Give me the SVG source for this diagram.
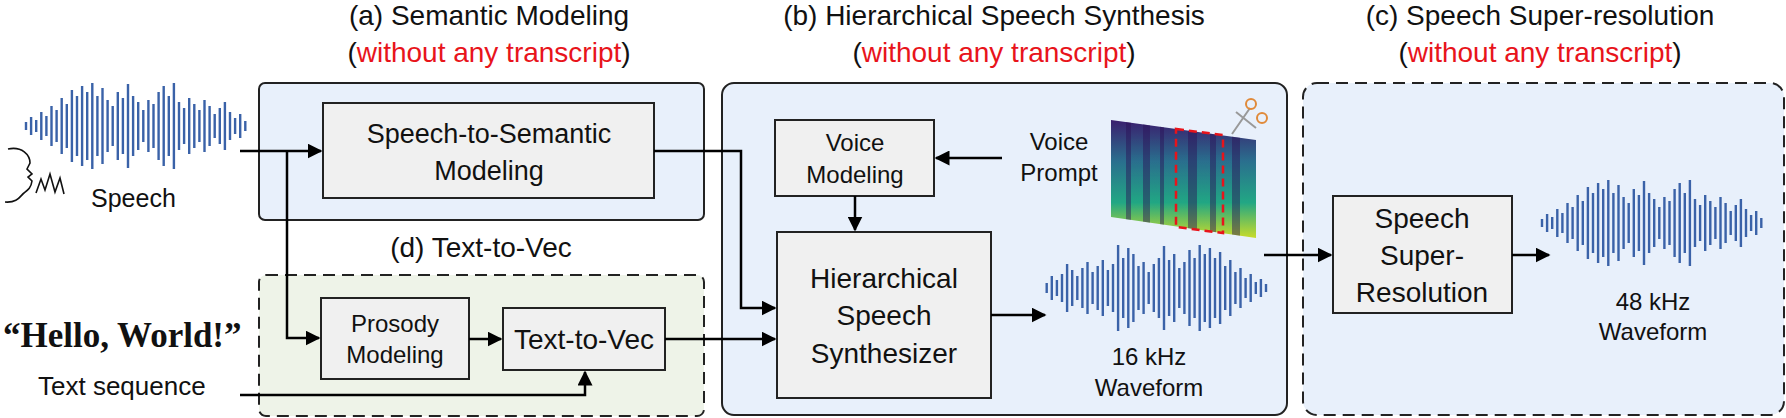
<svg xmlns="http://www.w3.org/2000/svg" width="1786" height="418" viewBox="0 0 1786 418">
<style>
text{font-family:"Liberation Sans",Arial,sans-serif;fill:#111}
.t{font-size:28px;text-anchor:middle}
.red{fill:#e8141b}
.m{font-size:27px;text-anchor:middle}
.s{font-size:24px;text-anchor:middle}
.panel{fill:#e8f0fb;stroke:#222;stroke-width:2}
.dash{stroke-dasharray:12 7}
.box{fill:#f0f0f0;stroke:#222;stroke-width:2}
.wave{stroke:#3a62a8;stroke-width:2.4;fill:none}
</style>
<defs>
<marker id="ah2" viewBox="0 0 10 10" refX="9" refY="5" markerWidth="15" markerHeight="15" orient="auto" markerUnits="userSpaceOnUse"><path d="M0,0L10,5L0,10z" fill="#000"/></marker>
<linearGradient id="spec" x1="0" y1="0" x2="0" y2="1"><stop offset="0" stop-color="#3b1f6e"/><stop offset="0.35" stop-color="#2a6f8e"/><stop offset="0.7" stop-color="#22a784"/><stop offset="1" stop-color="#c8dc2a"/></linearGradient>
<clipPath id="specclip"><polygon points="1111,120 1256,140 1256,238 1111,217"/></clipPath>
<path id="wv" class="wave" d="M0 -4V4M5.1 -9V9M10.2 -6V6M15.3 -14V14M20.4 -10V10M25.5 -20V20M30.6 -16V16M35.7 -28V28M40.8 -22V22M45.9 -36V36M51 -30V30M56.1 -40V40M61.2 -34V34M66.3 -43V43M71.4 -30V30M76.5 -38V38M81.6 -26V26M86.7 -20V20M91.8 -34V34M96.9 -28V28M102 -42V42M107.1 -30V30M112.2 -24V24M117.3 -16V16M122.4 -26V26M127.5 -22V22M132.6 -34V34M137.7 -40V40M142.8 -30V30M147.9 -43V43M153 -24V24M158.1 -18V18M163.2 -28V28M168.3 -22V22M173.4 -16V16M178.5 -26V26M183.6 -20V20M188.7 -12V12M193.8 -18V18M198.9 -24V24M204 -14V14M209.1 -8V8M214.2 -12V12M219.3 -5V5"/>
</defs>
<text class="t" x="489" y="25">(a) Semantic Modeling</text>
<text class="t" x="489" y="62">(<tspan class="red">without any transcript</tspan>)</text>
<text class="t" x="994" y="25">(b) Hierarchical Speech Synthesis</text>
<text class="t" x="994" y="62">(<tspan class="red">without any transcript</tspan>)</text>
<text class="t" x="1540" y="25">(c) Speech Super-resolution</text>
<text class="t" x="1540" y="62">(<tspan class="red">without any transcript</tspan>)</text>

<g id="panel-a"><rect class="panel" x="259" y="83" width="445" height="137" rx="6"/></g>
<g id="panel-d"><rect class="panel dash" style="fill:#eef3e8" x="259" y="275" width="445" height="141" rx="7"/>
<text class="t" x="481" y="257">(d) Text-to-Vec</text></g>
<g id="panel-b"><rect class="panel" x="722" y="83" width="565" height="332" rx="12"/></g>
<g id="panel-c"><rect class="panel dash" x="1303" y="83" width="481" height="332" rx="14"/></g>

<g id="speech">
<use href="#wv" transform="translate(26,126)"/>
<path d="M8 149c14-3 22 6 22 14l-3 6 5 5-4 3 4 4c-1 7-4 9-8 12s-6 10-19 9" fill="none" stroke="#111" stroke-width="1.6"/>
<path d="M36 193l5-14 4 11 5-16 5 18 5-14 4 16" fill="none" stroke="#111" stroke-width="1.6"/>
<text x="91" y="207" style="font-size:25px">Speech</text>
</g>
<g id="hello"><text x="3" y="347" style="font-family:'Liberation Serif','Times New Roman',serif;font-weight:bold;font-size:35px">“Hello, World!”</text>
<text x="38" y="395" style="font-size:26px">Text sequence</text></g>

<g id="s2s"><rect class="box" x="323" y="103" width="331" height="95"/>
<text class="m" x="489" y="143">Speech-to-Semantic</text><text class="m" x="489" y="180">Modeling</text></g>
<g id="prosody"><rect class="box" x="321" y="298" width="148" height="81"/>
<text class="s" x="395" y="332">Prosody</text><text class="s" x="395" y="363">Modeling</text></g>
<g id="t2v"><rect class="box" x="503" y="308" width="162" height="62"/>
<text class="m" x="584" y="349" style="font-size:28px">Text-to-Vec</text></g>
<g id="voice"><rect class="box" x="775" y="120" width="159" height="76"/>
<text class="s" x="855" y="151">Voice</text><text class="s" x="855" y="183">Modeling</text></g>
<g id="hier"><rect class="box" x="777" y="232" width="214" height="166"/>
<text class="m" x="884" y="288" style="font-size:28px">Hierarchical</text><text class="m" x="884" y="325" style="font-size:28px">Speech</text><text class="m" x="884" y="363" style="font-size:28px">Synthesizer</text></g>
<g id="prompt"><text class="s" x="1059" y="150">Voice</text><text class="s" x="1059" y="181">Prompt</text>
<polygon points="1111,120 1256,140 1256,238 1111,217" fill="url(#spec)"/>
<g clip-path="url(#specclip)" fill="#2b0f55" opacity="0.45">
<rect x="1126" y="115" width="5" height="130"/><rect x="1143" y="115" width="7" height="130"/><rect x="1160" y="115" width="4" height="130"/><rect x="1188" y="115" width="9" height="130"/><rect x="1210" y="115" width="6" height="130"/><rect x="1232" y="115" width="8" height="130"/>
</g>
<polygon points="1176,129 1223,135 1223,233 1176,227" fill="none" stroke="#e8141b" stroke-width="2.5" stroke-dasharray="8 5"/>
<g stroke="#999" stroke-width="2" fill="none"><path d="M1232 134L1250 108M1236 112L1256 128"/><circle cx="1251" cy="104" r="5" stroke="#e08a3a"/><circle cx="1262" cy="118" r="5" stroke="#e08a3a"/></g></g>
<g id="w16">
<use href="#wv" transform="translate(1266,288) scale(-1,1)"/>
<text class="s" x="1149" y="365">16 kHz</text><text class="s" x="1149" y="396">Waveform</text></g>
<g id="ssr"><rect class="box" x="1333" y="196" width="179" height="117"/>
<text class="m" x="1422" y="228" style="font-size:28px">Speech</text><text class="m" x="1422" y="265" style="font-size:28px">Super-</text><text class="m" x="1422" y="302" style="font-size:28px">Resolution</text></g>
<g id="w48">
<use href="#wv" transform="translate(1542,223)"/>
<text class="s" x="1653" y="310">48 kHz</text><text class="s" x="1653" y="340">Waveform</text></g>

<g id="connectors" fill="none" stroke="#000" stroke-width="2.5">
<path d="M240 151H321" marker-end="url(#ah2)"/>
<path d="M287 151V338H319" marker-end="url(#ah2)"/>
<path d="M469 339H501" marker-end="url(#ah2)"/>
<path d="M240 395H585V372" marker-end="url(#ah2)"/>
<path d="M654 151H741V308H775" marker-end="url(#ah2)"/>
<path d="M665 339H775" marker-end="url(#ah2)"/>
<path d="M1002 158H936" marker-end="url(#ah2)"/>
<path d="M855 196V230" marker-end="url(#ah2)"/>
<path d="M991 315H1045" marker-end="url(#ah2)"/>
<path d="M1264 255H1331" marker-end="url(#ah2)"/>
<path d="M1512 255H1549" marker-end="url(#ah2)"/>
</g>
</svg>
